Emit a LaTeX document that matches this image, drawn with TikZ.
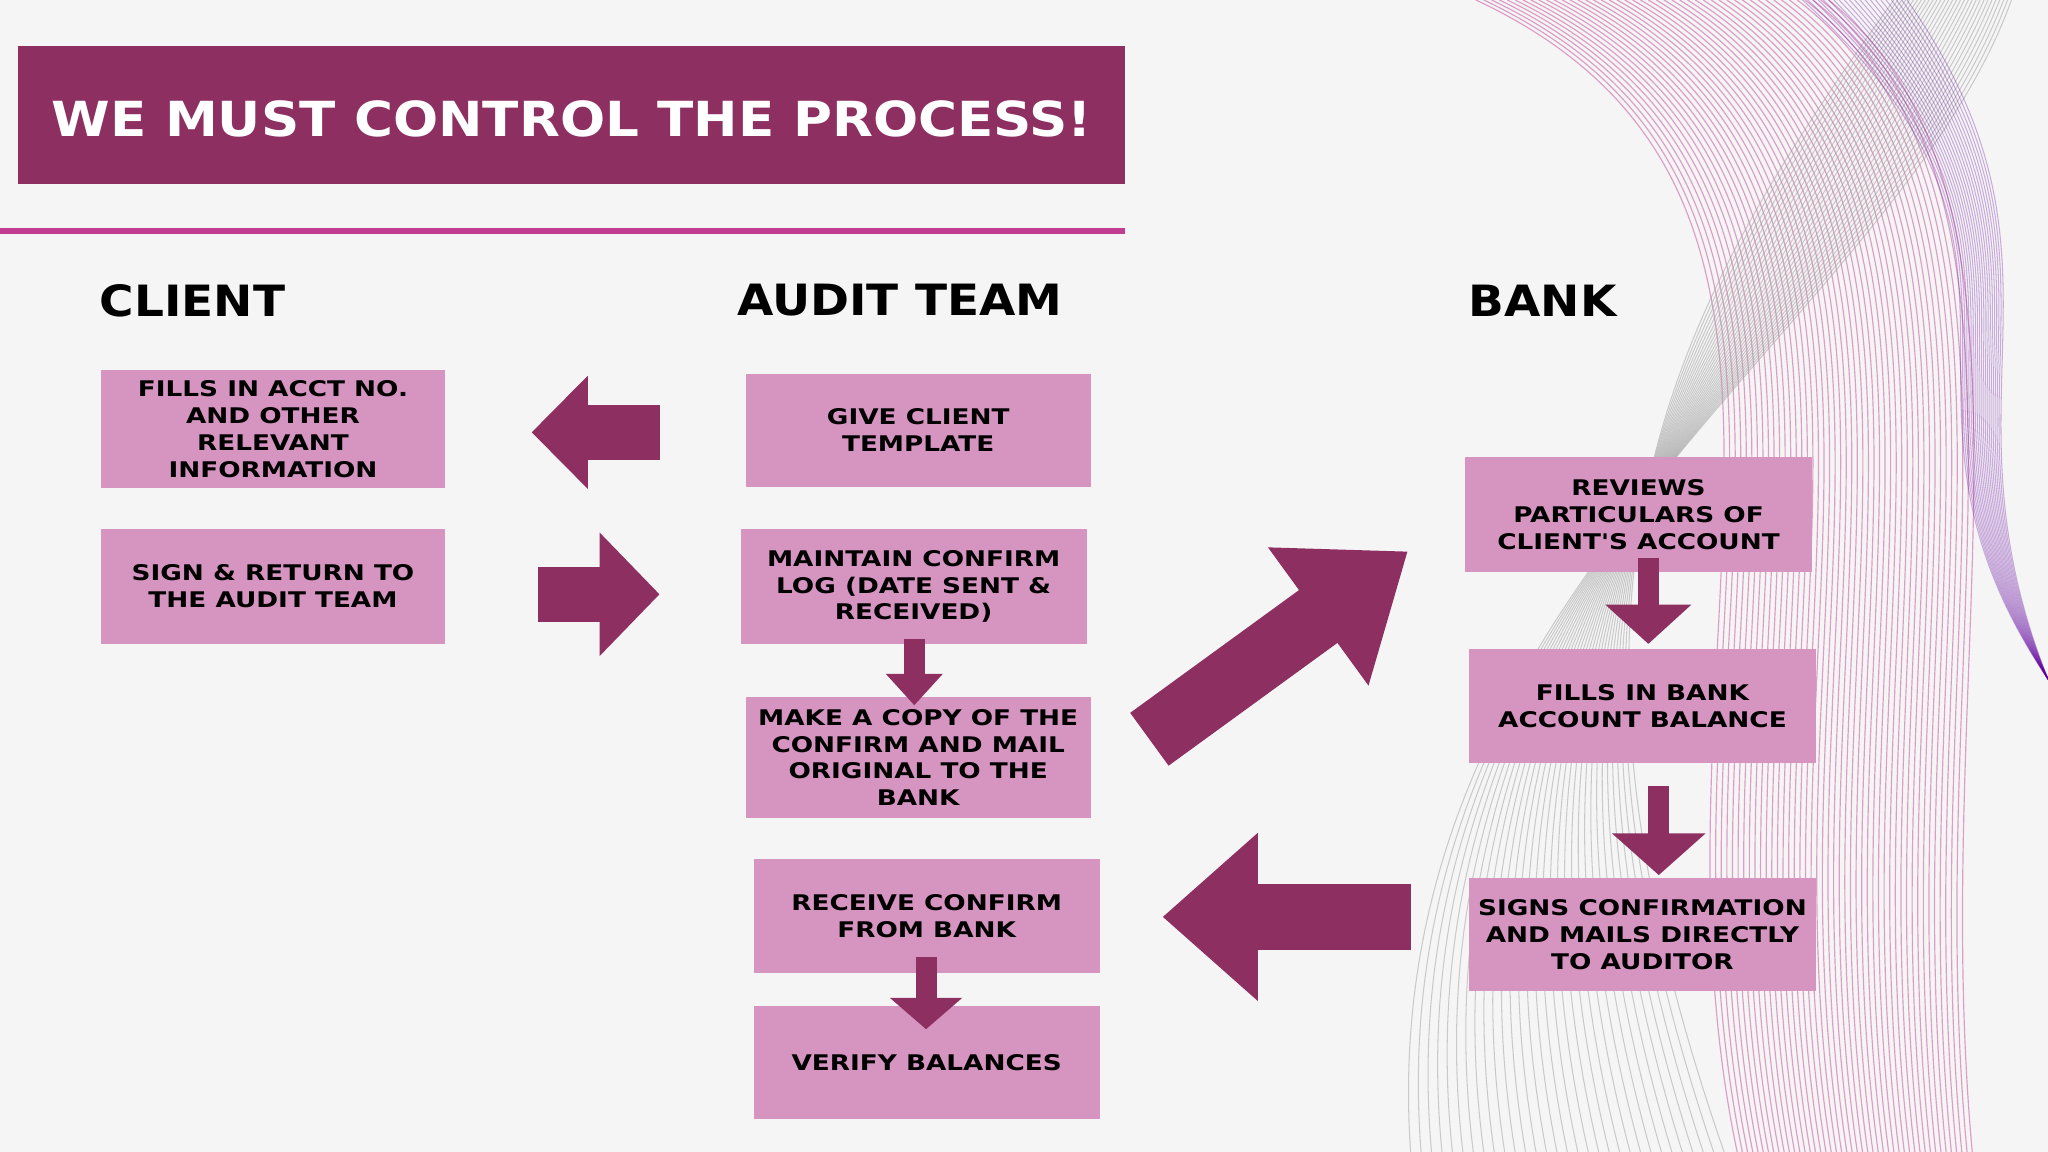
\documentclass[tikz,border=0pt]{standalone}
\usepackage{fontspec}
\setmainfont{DejaVu Sans}
\newfontfamily\boxfont[FakeStretch=1.22]{DejaVu Sans}
\newfontfamily\titlefont[FakeStretch=1.1]{DejaVu Sans}
\newfontfamily\hdrfont[FakeStretch=1.09]{DejaVu Sans}
\usetikzlibrary{arrows.meta}
\definecolor{plum}{HTML}{8E2F62}
\definecolor{boxpink}{HTML}{D595C0}
\definecolor{linepink}{HTML}{C23D92}
\definecolor{bgc}{HTML}{F5F5F5}
\tikzset{
  pbox/.style={fill=boxpink, draw=none, inner sep=0pt, align=center, text=black,
    font=\boxfont\bfseries\fontsize{16.5}{20.5}\selectfont},
  hdr/.style={anchor=west, font=\hdrfont\bfseries\fontsize{33}{36}\selectfont, text=black},
  barrow/.style={draw=plum, line width=#1},
}
\newcommand{\mybox}[5]{\node[pbox, minimum width=#3-#1, minimum height=#4-#2] (#5) at ({(#1+#3)/2},{(#2+#4)/2})}
\begin{document}
\begin{tikzpicture}[x=1pt,y=-1pt]
\fill[bgc] (0,0) rectangle (1568,882);
\useasboundingbox (0,0) rectangle (1568,882);
% background waves
\begin{scope}
\clip (0,0) rectangle (1568,882);
\foreach \i in {0,...,45}{
  \draw[linepink!80, opacity=0.6, line width=0.9pt]
    (1130+\i*6,0) .. controls (1450+\i*3,150) and (1250+\i*5,500) .. (1330+\i*4,882);
}
\foreach \i in {0,...,30}{
  \draw[gray!70, opacity=0.55, line width=0.8pt]
    (1540-\i*3,0) .. controls (1450-\i*6,250) and (1050+\i*4,450) .. (1080+\i*8,882);
}
\foreach \i in {0,...,20}{
  \draw[blue!50!purple, opacity=0.3, line width=0.8pt]
    (1380+\i*4,0) .. controls (1600,200) and (1420+\i*3,300) .. (1568,520);
}
\end{scope}
% title
\fill[plum] (14,35) rectangle (861,141);
\node[anchor=west, text=white, font=\titlefont\bfseries\fontsize{37}{40}\selectfont] (title) at (36,91) {WE MUST CONTROL THE PROCESS!};
\fill[linepink] (0,174.5) rectangle (861,179.5);
% headers
\node[hdr] (hc) at (73,230) {CLIENT};
\node[hdr] (ha) at (561,230) {AUDIT TEAM};
\node[hdr] (hb) at (1121,230) {BANK};
% client boxes
\mybox{77}{283}{341}{374}{c1} {FILLS IN ACCT NO.\\AND OTHER\\RELEVANT\\INFORMATION};
\mybox{77}{405}{341}{493}{c2} {SIGN \& RETURN TO\\THE AUDIT TEAM};
% audit boxes
\mybox{571}{286}{835}{373}{a1} {GIVE CLIENT\\TEMPLATE};
\mybox{567}{405}{832}{493}{a2} {MAINTAIN CONFIRM\\LOG (DATE SENT \&\\RECEIVED)};
\mybox{571}{534}{835}{626}{a3} {MAKE A COPY OF THE\\CONFIRM AND MAIL\\ORIGINAL TO THE\\BANK};
\mybox{577}{658}{842}{745}{a4} {RECEIVE CONFIRM\\FROM BANK};
\mybox{577}{770}{842}{857}{a5} {VERIFY BALANCES};
% bank boxes
\mybox{1122}{350}{1387}{438}{b1} {REVIEWS\\PARTICULARS OF\\CLIENT'S ACCOUNT};
\mybox{1125}{497}{1390}{584}{b2} {FILLS IN BANK\\ACCOUNT BALANCE};
\mybox{1125}{672}{1390}{759}{b3} {SIGNS CONFIRMATION\\AND MAILS DIRECTLY\\TO AUDITOR};
% block arrows
\coordinate (l1s) at (505,331); \coordinate (l1e) at (407,331);
\draw[barrow=42pt, -{Triangle[length=43pt,width=84pt]}] (l1s) -- (l1e);
\coordinate (r1s) at (412,455); \coordinate (r1e) at (505,455);
\draw[barrow=42pt, -{Triangle[length=46pt,width=92pt]}] (r1s) -- (r1e);
\coordinate (ds) at (880,566); \coordinate (de) at (1078,422);
\draw[barrow=50pt, -{Triangle[length=85pt,width=125pt]}] (ds) -- (de);
\coordinate (l2s) at (1080,702); \coordinate (l2e) at (890,702);
\draw[barrow=50pt, -{Triangle[length=73pt,width=124pt]}] (l2s) -- (l2e);
% small down arrows
\draw[barrow=16pt, -{Triangle[length=24pt,width=42pt]}] (700,489) -- (700,540);
\draw[barrow=16pt, -{Triangle[length=24pt,width=54pt]}] (709,733) -- (709,788);
\draw[barrow=16pt, -{Triangle[length=30pt,width=64pt]}] (1262,427) -- (1262,493);
\draw[barrow=16pt, -{Triangle[length=32pt,width=70pt]}] (1270,602) -- (1270,670);
\end{tikzpicture}
\end{document}
